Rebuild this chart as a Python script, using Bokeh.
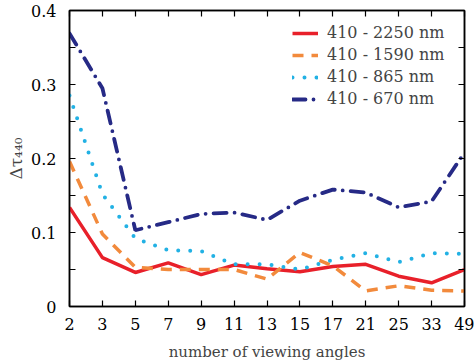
from bokeh.plotting import figure
from bokeh.models import (ColumnDataSource, FixedTicker, LinearAxis, Range1d,
                          CustomJSTickFormatter, Legend, LegendItem)
from bokeh.embed import file_html
from bokeh.resources import INLINE

# ---- data ----
angles = ["2", "3", "5", "7", "9", "11", "13", "15", "17", "21", "25", "33", "49"]
s2250 = [0.134, 0.066, 0.046, 0.059, 0.043, 0.056, 0.051, 0.047, 0.054, 0.057, 0.041, 0.032, 0.050]
s1590 = [0.196, 0.098, 0.053, 0.050, 0.050, 0.050, 0.037, 0.073, 0.055, 0.021, 0.028, 0.022, 0.021]
s865 = [0.285, 0.152, 0.092, 0.076, 0.075, 0.057, 0.057, 0.050, 0.063, 0.072, 0.060, 0.072, 0.071]
s670 = [0.369, 0.295, 0.103, 0.114, 0.125, 0.127, 0.117, 0.143, 0.158, 0.154, 0.134, 0.142, 0.208]
labels = ["410 - 2250 nm", "410 - 1590 nm", "410 - 865 nm", "410 - 670 nm"]
y_ticks = [0.0, 0.1, 0.2, 0.3, 0.4]
y_minor = [0.05, 0.15, 0.25, 0.35]

idx = list(range(len(angles)))
src = ColumnDataSource(dict(x=idx, a=s2250, b=s1590, c=s865, d=s670))

FONT = "DejaVu Serif"

p = figure(width=474, height=364, output_backend="svg", toolbar_location=None,
           x_range=Range1d(0, len(angles) - 1), y_range=Range1d(0, 0.4),
           min_border_left=69, min_border_right=10, min_border_top=10, min_border_bottom=58)
p.grid.visible = False
p.outline_line_color = "black"
p.outline_line_width = 1.5
p.background_fill_color = "white"

r1 = p.line("x", "a", source=src, line_color="#e8202a", line_width=3.5)
r2 = p.line("x", "b", source=src, line_color="#f28a3c", line_width=3.5, line_dash="11 8")
r3 = p.line("x", "c", source=src, line_color="#22b1e4", line_width=4, line_dash="0 12", line_cap="round")
r4 = p.line("x", "d", source=src, line_color="#262a86", line_width=3.8, line_dash="13 8 0 8", line_cap="round")

overrides = {i: a for i, a in enumerate(angles)}
yfmt = CustomJSTickFormatter(code="return tick < 1e-9 ? '0' : tick.toFixed(1);")
blank = CustomJSTickFormatter(code="return '';")

def style(ax):
    ax.axis_line_color = "black"
    ax.axis_line_width = 1.5
    ax.major_tick_in = 6
    ax.major_tick_out = 0
    ax.minor_tick_in = 6
    ax.minor_tick_out = 0
    ax.major_tick_line_width = 1.2
    ax.minor_tick_line_width = 1.2
    ax.major_label_text_font = FONT
    ax.major_label_text_font_size = "16px"
    ax.major_label_text_color = "black"
    ax.axis_label_text_font = FONT
    ax.axis_label_text_font_style = "normal"
    ax.axis_label_text_font_size = "15px"

p.xaxis.ticker = FixedTicker(ticks=idx)
p.xaxis.major_label_overrides = overrides
p.xaxis.axis_label = "number of viewing angles"
p.xaxis.major_label_standoff = 11
p.xaxis.axis_label_standoff = 10
style(p.xaxis[0])

p.yaxis.ticker = FixedTicker(ticks=y_ticks, minor_ticks=y_minor)
p.yaxis.formatter = yfmt
p.yaxis.axis_label = "Δτ₄₄₀"
p.yaxis.major_label_standoff = 13
p.yaxis.axis_label_standoff = 2
style(p.yaxis[0])
p.yaxis.axis_label_text_font_size = "17px"

top = LinearAxis(ticker=FixedTicker(ticks=idx), formatter=blank)
style(top)
top.major_label_standoff = 0
p.add_layout(top, "above")
right = LinearAxis(ticker=FixedTicker(ticks=y_ticks, minor_ticks=y_minor), formatter=blank)
style(right)
right.major_label_standoff = 0
p.add_layout(right, "right")

legend = Legend(items=[LegendItem(label=l, renderers=[r]) for l, r in zip(labels, [r1, r2, r3, r4])],
                location=(223, 198))
legend.label_text_font = FONT
legend.label_text_font_size = "16px"
legend.border_line_color = None
legend.background_fill_alpha = 0
legend.glyph_width = 26
legend.glyph_height = 18
legend.label_height = 18
legend.spacing = 3
legend.padding = 0
legend.margin = 0
legend.label_standoff = 9
p.add_layout(legend)

open("out.html", "w").write(file_html(p, INLINE))
